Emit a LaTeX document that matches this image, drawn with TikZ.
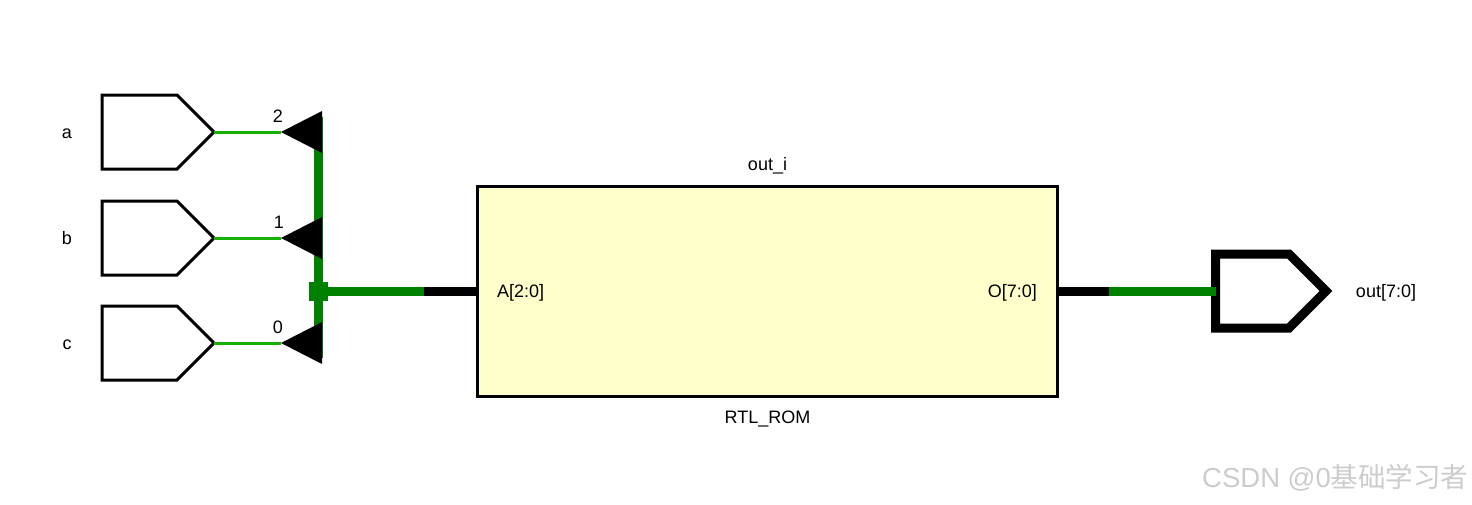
\documentclass[tikz,border=0pt]{standalone}
\usepackage{fontspec}
\setmainfont{Liberation Sans}
\newfontfamily\cjkfont{Noto Sans CJK SC}
\usetikzlibrary{shapes,arrows}
\definecolor{busgreen}{HTML}{008000}
\definecolor{wiregreen}{HTML}{17B000}
\definecolor{romyellow}{HTML}{FFFFCC}
\tikzstyle{inputport} = [signal, signal to = east, draw, line width = 3pt, outer sep = 0, inner sep = 0, minimum width = 112pt, minimum height = 74pt]
\tikzstyle{outputport} = [signal, signal to = east, draw, line width = 9pt, outer sep = 0, inner sep = 0, minimum width = 110.5pt, minimum height = 74pt]
\tikzstyle{romblock} = [rectangle, draw, fill = romyellow, line width = 3pt, outer sep = 0, minimum width = 580pt, minimum height = 210pt]
\tikzstyle{tap} = [isosceles triangle, isosceles triangle stretches, shape border rotate = 180, fill = black, inner sep = 0, outer sep = 0, minimum width = 42pt, minimum height = 41pt]
\tikzstyle{wire} = [wiregreen, line width = 3pt]
\tikzstyle{bus} = [busgreen, line width = 9pt]
\tikzstyle{busend} = [black, line width = 9pt]

\begin{document}
\begin{tikzpicture}[x=1pt,y=-1pt]
\tikzstyle{every node}=[font=\fontsize{18}{21}\selectfont];
\useasboundingbox (0,0) rectangle (1472,504);
\node [inputport, anchor = west] (a) at (102,132) {};
\node [inputport, anchor = west] (b) at (102,238) {};
\node [inputport, anchor = west] (c) at (102,343) {};
\node (namea) at (67,134) {a};
\node (nameb) at (67,238) {b};
\node (namec) at (67,345) {c};
\coordinate (bustop) at (318,117);
\coordinate (busbottom) at (318,358);
\coordinate (busjoin) at (318,291);
\draw [bus] (bustop) -- (busbottom);
\node [tap, anchor = apex] (tapa) at (281,132) {};
\node [tap, anchor = apex] (tapb) at (281,238) {};
\node [tap, anchor = apex] (tapc) at (281,343) {};
\node (bita) at (278,116) {2};
\node (bitb) at (279,222) {1};
\node (bitc) at (278,327) {0};
\draw [wire] (a.east) -- (tapa.apex);
\draw [wire] (b.east) -- (tapb.apex);
\draw [wire] (c.east) -- (tapc.apex);
\node [fill = busgreen, inner sep = 0, minimum size = 19pt] (joint) at (busjoin) {};
\node [romblock] (rom) at (767.5,291) {};
\node [above of = rom, node distance = 125pt] (instname) {out\_i};
\node [below of = rom, node distance = 128pt] (cellname) {RTL\_ROM};
\node [right] (portin) at (493.5,293) {A[2:0]};
\node [left] (portout) at (1040.5,293) {O[7:0]};
\coordinate (inbreak) at (424,291);
\coordinate (outbreak) at (1109,291);
\draw [bus] (joint.east) -- (inbreak);
\draw [busend] (inbreak) -- (rom.west);
\node [outputport, anchor = west] (out) at (1215.5,291) {};
\draw [busend] (rom.east) -- (outbreak);
\draw [bus] (outbreak) -- (out.west);
\node (nameout) at (1386,293) {out[7:0]};
\node [black!20, font = \fontsize{27.5}{30}\selectfont, anchor = east] (mark) at (1472,478) {CSDN @0{\cjkfont 基础学习者}};
\end{tikzpicture}
\end{document}
